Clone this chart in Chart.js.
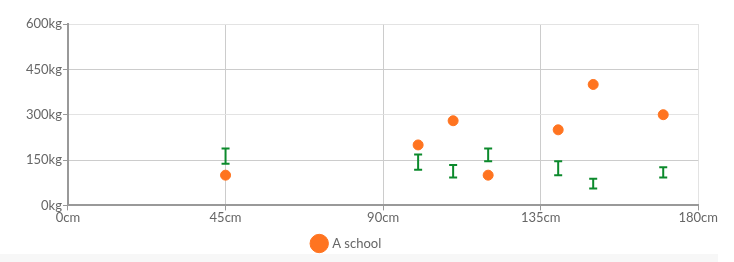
<!DOCTYPE html>
<html>
<head>
<meta charset="utf-8">
<script src="https://cdn.jsdelivr.net/npm/chart.js@4/dist/chart.umd.min.js"></script>
<style>
  html, body { margin: 0; padding: 0; background: #fff; }
  #wrap { width: 718px; height: 260px; position: relative; }
  #strip { position: absolute; left: 0; top: 254px; width: 718px; height: 8px; background: #f7f7f7; }
  #wrap canvas { position: relative; }
</style>
</head>
<body>
<div id="strip"></div>
<div id="wrap"><canvas id="chart"></canvas></div>
<script>
// Données
const heights = [45, 100, 110, 120, 140, 150, 170];
const weights = [100, 200, 280, 100, 250, 400, 300];

// Barres d'erreur (vertes): position, bas, haut
const errX = [45, 100, 110, 120, 140, 150, 170];
const errLow = [138, 118, 92, 146, 100, 56, 92];
const errHigh = [188, 168, 134, 188, 146, 88, 126];

const xTicks = [0, 45, 90, 135, 180];
const yTicks = [0, 150, 300, 450, 600];

const COLORS = {
  orange: '#FF7420',
  green: '#0C8A2C',
  grid: '#CCCCCC',
  gridLight: '#E3E3E3',
  axis: '#999999',
  text: '#666666'
};

Chart.defaults.font.family = 'Lato, "Open Sans", sans-serif';
Chart.defaults.font.size = 13;
Chart.defaults.color = COLORS.text;

// segments verticaux + caps (pointStyle 'line')
const errData = [];
errX.forEach((x, i) => {
  errData.push({ x: x, y: errLow[i] });
  errData.push({ x: x, y: errHigh[i] });
  errData.push({ x: x, y: null });
});

// décale la légende vers la gauche comme sur l'original
const legendShift = {
  id: 'legendShift',
  afterLayout(chart) {
    if (chart.legend) chart.legend.right -= 47;
  }
};

new Chart(document.getElementById('chart'), {
  type: 'scatter',
  data: {
    datasets: [
      {
        label: 'A school',
        data: heights.map((h, i) => ({ x: h, y: weights[i] })),
        backgroundColor: COLORS.orange,
        borderColor: COLORS.orange,
        pointRadius: 5,
        pointHoverRadius: 5
      },
      {
        label: 'error',
        data: errData,
        showLine: true,
        spanGaps: false,
        borderColor: COLORS.green,
        borderWidth: 2,
        pointStyle: 'line',
        pointRadius: 4,
        pointBorderWidth: 2,
        pointBorderColor: COLORS.green,
        pointBackgroundColor: COLORS.green
      }
    ]
  },
  options: {
    responsive: true,
    maintainAspectRatio: false,
    animation: false,
    layout: { padding: { top: 24, right: 2, left: 25, bottom: 0 } },
    plugins: {
      legend: {
        position: 'bottom',
        labels: {
          usePointStyle: true,
          pointStyle: 'circle',
          boxWidth: 14,
          boxHeight: 14,
          padding: 11,
          color: COLORS.text,
          filter: (item) => item.datasetIndex === 0
        }
      },
      tooltip: { enabled: false }
    },
    scales: {
      x: {
        type: 'linear',
        min: 0,
        max: 180,
        afterBuildTicks: (axis) => { axis.ticks = xTicks.map(v => ({ value: v })); },
        grid: {
          color: (ctx) => ctx.tick && ctx.tick.value === 180 ? COLORS.gridLight : COLORS.grid,
          tickColor: COLORS.axis,
          tickLength: 5
        },
        border: { color: COLORS.axis, width: 2 },
        ticks: {
          padding: 0,
          maxRotation: 0,
          callback: (value) => `${value}cm`
        }
      },
      y: {
        min: 0,
        max: 600,
        afterBuildTicks: (axis) => { axis.ticks = yTicks.map(v => ({ value: v })); },
        grid: {
          color: (ctx) => ctx.tick && (ctx.tick.value === 300 || ctx.tick.value === 600) ? COLORS.gridLight : COLORS.grid,
          tickColor: COLORS.axis,
          tickLength: 5
        },
        border: { color: COLORS.axis, width: 2 },
        ticks: {
          padding: 1,
          callback: (value) => `${value}kg`
        }
      }
    }
  },
  plugins: [legendShift]
});
</script>
</body>
</html>
